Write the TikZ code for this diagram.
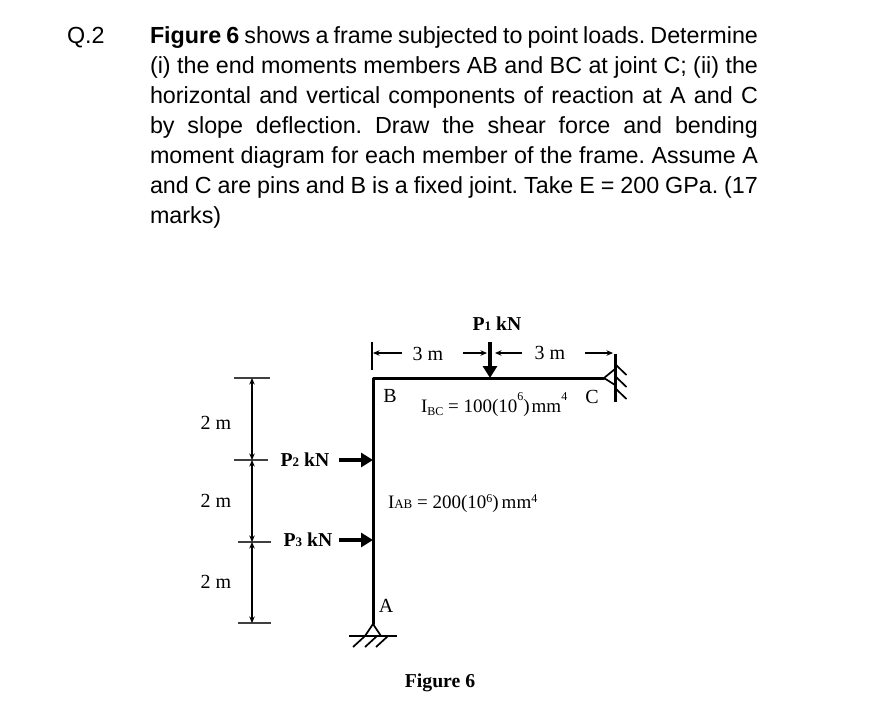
\documentclass[tikz,border=0pt]{standalone}
\usepackage{fontspec}
\setmainfont{Liberation Sans}
\newfontfamily\figfont{Liberation Serif}
\usetikzlibrary{arrows,arrows.meta,positioning}

\begin{document}
\begin{tikzpicture}[x=1pt,y=-1pt,>={Stealth[length=6.5pt,width=5.5pt]},semithick]
  \tikzstyle{every node}=[inner sep=0pt,outer sep=0pt,text=black]
  \tikzstyle{member}=[line width=3pt]
  \tikzstyle{support}=[line width=1.7pt]
  \tikzstyle{thin line}=[line width=1.1pt,draw=black!75]
  \tikzstyle{dim}=[line width=1.4pt,<->]
  \tikzstyle{dimend}=[line width=1.4pt,->]
  \tikzstyle{load}=[line width=4.2pt,-{Triangle[width=14pt,length=12pt]},shorten >=0pt]
  \tikzstyle{fig text}=[font=\figfont\fontsize{20}{22}\selectfont]
  \tikzstyle{frame text}=[font=\figfont\fontsize{19}{21}\selectfont]
  \tikzstyle{bold text}=[font=\figfont\bfseries\fontsize{19.7}{22}\selectfont]
  \newcommand{\smalldigit}[1]{{\fontsize{13}{13}\selectfont #1}}

  \useasboundingbox (0,0) rectangle (882,718);

  % question text
  \node (qno) [anchor=base west,font=\fontsize{23.3}{30}\selectfont] at (67,43) {Q.2};
  \node (question) [anchor=north west,text width=608pt,align=justify,
    font=\fontsize{23.3}{30}\selectfont] at (150,27) {\tolerance=9999\frenchspacing\textbf{Figure 6} shows a frame subjected to point loads. Determine\linebreak
    (i) the end moments members AB and BC at joint C; (ii) the\linebreak
    horizontal and vertical components of reaction at A and C\linebreak
    by slope deflection. Draw the shear force and bending\linebreak
    moment diagram for each member of the frame. Assume A\linebreak
    and C are pins and B is a fixed joint. Take E = 200 GPa. (17\linebreak
    marks)};

  % frame
  \coordinate (A) at (373,624);
  \coordinate (B) at (373,378);
  \coordinate (C) at (604,378);
  \draw[member,line cap=round,line join=round] (A) -- (B) -- (C);

  % pin at A
  \coordinate (al) at (365,636);
  \coordinate (ar) at (381,636);
  \coordinate (gl) at (349,636);
  \coordinate (gr) at (397,636);
  \draw[support] (al) -- (A) -- (ar);
  \draw[line width=2.4pt] (gl) -- (gr);
  \foreach \i/\x in {1/365,2/377,3/388}
    \draw[support] (\x,636) -- ++(-12,11);

  % pin at C
  \coordinate (ct) at (615,369);
  \coordinate (cb) at (615,385);
  \coordinate (wt) at (615,354);
  \coordinate (wb) at (615,402);
  \draw[support] (ct) -- (C) -- (cb);
  \draw[line width=3pt] (wt) -- (wb);
  \foreach \i/\y in {1/364,2/376,3/388}
    \draw[support] (615,\y) -- ++(11.5,11);

  % horizontal dimensions
  \coordinate (d1) at (373,353);
  \coordinate (d2) at (487,353);
  \coordinate (d3) at (495,353);
  \coordinate (d4) at (613,353);
  \coordinate (e1) at (372,342);
  \coordinate (e2) at (372,370);
  \coordinate (s1) at (402,353);
  \coordinate (s2) at (463,353);
  \coordinate (s3) at (522,353);
  \coordinate (s4) at (585,353);
  \node (dl) [fig text] at (428,354) {3 m};
  \node (dr) [fig text] at (550,353) {3 m};
  \draw[dimend] (s1) -- (d1);
  \draw[dimend] (s2) -- (d2);
  \draw[dimend] (s3) -- (d3);
  \draw[dimend] (s4) -- (d4);
  \draw[line width=1.1pt] (e1) -- (e2);

  % vertical dimensions
  \coordinate (v0) at (252,378);
  \coordinate (v1) at (252,460);
  \coordinate (v2) at (252,542);
  \coordinate (v3) at (252,623);
  \draw[thin line] (234,378) -- (270,378);
  \draw[thin line] (234,460) -- (268,460);
  \draw[thin line] (238,542) -- (271,542);
  \draw[thin line] (238,623) -- (271,623);
  \path
  (v0) edge [dim] (v1)
  (v1) edge [dim] (v2)
  (v2) edge [dim] (v3);
  \node (h1) [fig text] at (216,423) {2 m};
  \node (h2) [fig text] at (216,501) {2 m};
  \node (h3) [fig text] at (216,582) {2 m};

  % loads
  \coordinate (p1s) at (490,342);
  \coordinate (p1e) at (490,378);
  \coordinate (p2s) at (339,460);
  \coordinate (p2e) at (373,460);
  \coordinate (p3s) at (339,540);
  \coordinate (p3e) at (373,540);
  \draw[load] (p1s) -- (p1e);
  \draw[load] (p2s) -- (p2e);
  \draw[load] (p3s) -- (p3e);
  \node (p1) [bold text] at (497,324) {P\smalldigit{1} kN};
  \node (p2) [bold text] at (305,460) {P\smalldigit{2} kN};
  \node (p3) [bold text] at (308,540) {P\smalldigit{3} kN};

  % labels
  \node (lb) [fig text] at (390,396) {B};
  \node (lc) [fig text] at (592,397) {C};
  \node (la) [fig text] at (386,606) {A};
  \node (ibc) [frame text,anchor=base west] at (421,412)
    {I\raisebox{-3pt}{\fontsize{12}{12}\selectfont BC} = 100(10\raisebox{12pt}{\fontsize{12}{12}\selectfont 6})\kern2pt mm\raisebox{12pt}{\fontsize{12}{12}\selectfont 4}};
  \node (iab) [frame text,anchor=base west] at (388,508)
    {I\smalldigit{AB} = 200(10\raisebox{6pt}{\fontsize{12}{12}\selectfont 6})\kern3pt mm\raisebox{6pt}{\fontsize{12}{12}\selectfont 4}};
  \node (figlabel) [bold text] at (440,683) {Figure 6};
\end{tikzpicture}
\end{document}
